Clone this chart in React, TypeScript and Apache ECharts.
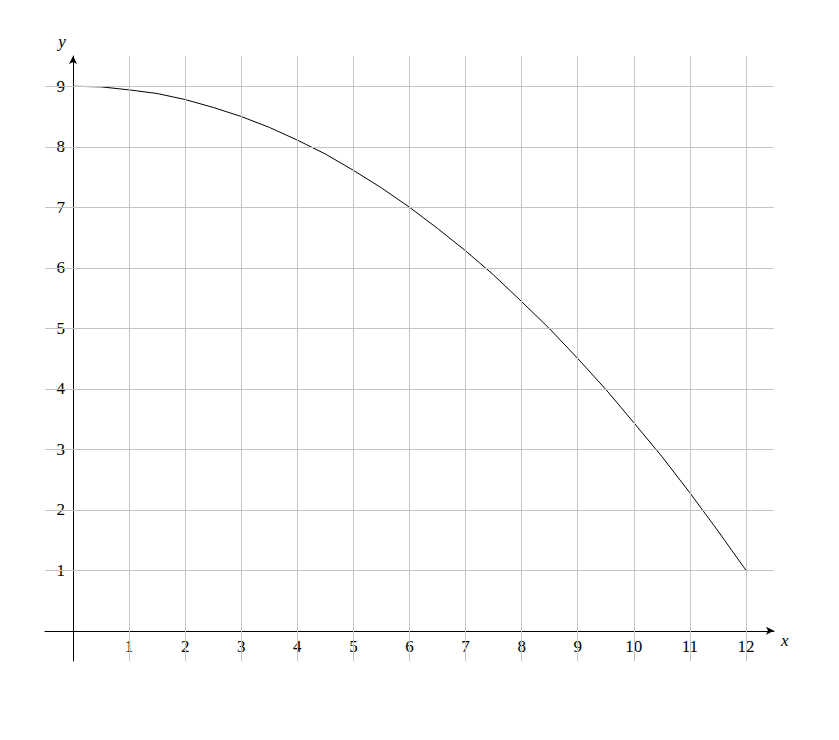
import React, { useEffect, useRef } from "react";
import * as echarts from "echarts";

// points of the curve (x step 0.5)
const xs = [
  0, 0.5, 1, 1.5, 2, 2.5, 3, 3.5, 4, 4.5, 5, 5.5, 6, 6.5, 7, 7.5, 8, 8.5, 9,
  9.5, 10, 10.5, 11, 11.5, 12,
];
const ys = [
  9, 8.99, 8.94, 8.88, 8.78, 8.65, 8.5, 8.32, 8.11, 7.88, 7.61, 7.32, 7, 6.65,
  6.28, 5.88, 5.44, 4.99, 4.5, 3.99, 3.44, 2.88, 2.28, 1.65, 1,
];

const xTicks = [1, 2, 3, 4, 5, 6, 7, 8, 9, 10, 11, 12];
const yTicks = [1, 2, 3, 4, 5, 6, 7, 8, 9];

const FONT = "Liberation Serif";

// plot box in pixels
const LEFT = 45;
const RIGHT = 65;
const TOP = 56;
const BOTTOM = 79;
const W = 839;
const H = 740;

export default function App() {
  const chartRef = useRef<HTMLDivElement>(null);

  useEffect(() => {
    if (!chartRef.current) return;
    const chart = echarts.init(chartRef.current, undefined, { renderer: "svg" });

    const xMin = -0.5;
    const xMax = 12.5;
    const yMin = -0.5;
    const yMax = 9.5;
    // shift the axes from the box edges to the zero lines
    const xOff = -((0 - yMin) / (yMax - yMin)) * (H - TOP - BOTTOM);
    const yOff = -((0 - xMin) / (xMax - xMin)) * (W - LEFT - RIGHT);

    const axisLine = {
      show: true,
      onZero: false,
      symbol: ["none", "arrow"],
      symbolSize: [6, 8],
      lineStyle: { color: "#000", width: 1 },
    };
    const nameStyle = {
      fontFamily: FONT,
      fontStyle: "italic",
      fontSize: 17,
      color: "#000",
    };
    const labelStyle = {
      fontFamily: FONT,
      fontSize: 17,
      color: "#000",
    };

    chart.setOption({
      animation: false,
      backgroundColor: "#fff",
      grid: { left: LEFT, right: RIGHT, top: TOP, bottom: BOTTOM },
      xAxis: {
        type: "value",
        min: xMin,
        max: xMax,
        offset: xOff,
        z: 3,
        axisLine,
        splitLine: { show: false },
        name: "x",
        nameLocation: "end",
        nameGap: 7,
        nameTextStyle: { ...nameStyle, verticalAlign: "top", padding: [1, 0, 0, 0] },
        axisTick: {
          show: true,
          customValues: xTicks,
          length: 3,
          lineStyle: { color: "#555" },
        },
        axisLabel: { customValues: xTicks, margin: 7, ...labelStyle },
      },
      yAxis: {
        type: "value",
        min: yMin,
        max: yMax,
        offset: yOff,
        z: 3,
        axisLine,
        splitLine: { show: false },
        name: "y",
        nameLocation: "end",
        nameGap: 6,
        nameTextStyle: { ...nameStyle, padding: [0, 22, 0, 0] },
        axisTick: {
          show: true,
          customValues: yTicks,
          length: 3,
          lineStyle: { color: "#555" },
        },
        axisLabel: { customValues: yTicks, margin: 8, ...labelStyle },
      },
      series: [
        {
          type: "line",
          data: xs.map((x, i) => [x, ys[i]]),
          showSymbol: false,
          symbol: "none",
          lineStyle: { color: "#000", width: 1 },
          z: 2,
          markLine: {
            silent: true,
            symbol: ["none", "none"],
            label: { show: false },
            lineStyle: { color: "#c4c4c4", type: "solid", width: 1 },
            data: [
              ...xTicks.map((v) => ({ xAxis: v })),
              ...yTicks.map((v) => ({ yAxis: v })),
            ],
          },
        },
      ],
    });

    return () => chart.dispose();
  }, []);

  return (
    <div
      ref={chartRef}
      style={{ position: "absolute", left: 0, top: 0, width: W, height: H }}
    />
  );
}
